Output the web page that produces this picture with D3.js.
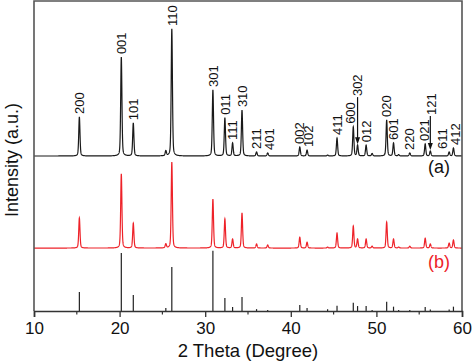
<!DOCTYPE html>
<html><head><meta charset="utf-8">
<script src="https://cdn.jsdelivr.net/npm/d3@7"></script>
<style>body{margin:0;background:#fff}</style>
</head><body><svg id="c" width="474" height="364"></svg>
<script>
// Peak positions (2θ, degree) and Miller indices
const peakTheta = [15.3, 20.2, 21.6, 25.4, 26.1, 30.9, 32.3, 33.2, 34.3, 36.0, 37.3, 41.05, 41.9, 44.3, 45.4, 47.3, 47.8, 48.8, 49.5, 51.2, 52.0, 52.6, 53.9, 55.7, 56.3, 58.5, 59.0];
const hkl = ["200","001","101","","110","301","011","111","310","211","401","002","102","","411","600","302","012","","020","601","","220","021","121","611","412"];
// (a) sample pattern peak intensities (a.u.)
const intensityA = [12.6, 31.9, 10.6, 1.6, 41.0, 21.3, 12.3, 4.2, 14.8, 1.3, 1.0, 2.9, 1.9, 0.3, 5.8, 9.4, 3.5, 3.5, 0.8, 11.6, 4.2, 0.4, 1.0, 3.9, 1.6, 1.3, 2.6];
// (b) sample pattern peak intensities (a.u.)
const intensityB = [9.7, 23.9, 8.0, 1.3, 27.7, 15.8, 9.4, 2.9, 11.3, 1.3, 1.0, 3.5, 1.9, 0.3, 4.8, 7.1, 2.9, 2.9, 0.6, 8.4, 2.9, 0.3, 0.6, 3.2, 1.3, 1.6, 2.6];
// Standard reference pattern (stick lines)
const intensityRef = [6.1, 18.7, 5.2, 1.0, 14.2, 19.4, 4.2, 1.3, 4.5, 0.6, 0.3, 1.9, 1.0, 0.6, 1.7, 2.7, 1.6, 1.6, 0.3, 3.0, 1.4, 0.3, 0.3, 1.3, 0.5, 0.5, 1.4];
// Labels raised with arrows: label base level (a.u. above trace baseline)
const arrowHkl = ["302", "121"];
const arrowLevel = [19.0, 12.9];
const xTicks = [10, 20, 30, 40, 50, 60];
const xMinorTicks = [15, 25, 35, 45, 55];
const offsetA = 50, offsetB = 20.3;

const svg = d3.select("#c");
const L = 34, R = 462, T = 1, B = 311;
const x = d3.scaleLinear().domain([10, 60]).range([L, R]);
const y = d3.scaleLinear().domain([0, 100]).range([B, T]);
const font = "'Liberation Sans', Arial, sans-serif";
// small horizontal nudges (px) that keep crowded labels apart
const nudge = { "600": -2.5, "611": -6.5, "412": 1.5, "401": 2, "002": -0.8, "102": 1.2, "012": 0.5, "021": -0.8, "121": 1.2 };

// peak profile (pseudo-Voigt) for rendering traces from peak lists
const fwhm = 0.17, eta = 0.35;
function profile(t, heights) {
  let s = 0;
  for (let i = 0; i < peakTheta.length; i++) {
    const d = t - peakTheta[i];
    const g = Math.exp(-4 * Math.LN2 * d * d / (fwhm * fwhm));
    const l = 1 / (1 + 4 * d * d / (fwhm * fwhm));
    s += heights[i] * (eta * l + (1 - eta) * g);
  }
  return s;
}
const grid = d3.range(10, 60.0001, 0.01);
const line = d3.line().x(d => x(d[0])).y(d => y(d[1]));

svg.append("path").datum(grid.map(t => [t, offsetA + profile(t, intensityA)]))
  .attr("d", line).attr("fill", "none").attr("stroke", "#1a1a1a").attr("stroke-width", 1.2);
svg.append("path").datum(grid.map(t => [t, offsetB + profile(t, intensityB)]))
  .attr("d", line).attr("fill", "none").attr("stroke", "#ee2229").attr("stroke-width", 1.2);

// reference sticks
svg.append("g").selectAll("line").data(peakTheta).join("line")
  .attr("x1", d => x(d)).attr("x2", d => x(d))
  .attr("y1", y(0)).attr("y2", (d, i) => y(intensityRef[i]))
  .attr("stroke", "#222").attr("stroke-width", 1.2);

// frame
svg.append("path").attr("d", `M${L},${B}V${T}H${R}V${B}`)
  .attr("fill", "none").attr("stroke", "#555").attr("stroke-width", 1.6);

// bottom axis
const ax = svg.append("g").attr("transform", `translate(0,${B})`)
  .call(d3.axisBottom(x).tickValues(xTicks).tickSize(6).tickPadding(5).tickFormat(d3.format("d")));
ax.select(".domain").attr("stroke", "#333").attr("stroke-width", 1.6);
ax.selectAll(".tick line").attr("stroke", "#333").attr("stroke-width", 1.3);
ax.selectAll("text").attr("font-family", font).attr("font-size", 17).attr("fill", "#111");
svg.append("g").selectAll("line").data(xMinorTicks).join("line")
  .attr("x1", d => x(d)).attr("x2", d => x(d)).attr("y1", B).attr("y2", B + 3.5)
  .attr("stroke", "#333").attr("stroke-width", 1.2);

// peak labels
const labels = svg.append("g").attr("font-family", font).attr("font-size", 13).attr("fill", "#111");
peakTheta.forEach((p, i) => {
  if (!hkl[i]) return;
  const ai = arrowHkl.indexOf(hkl[i]);
  const top = offsetA + intensityA[i];
  const base = ai >= 0 ? y(offsetA + arrowLevel[ai]) - 1 : y(top) - 3;
  const lx = x(p) + (nudge[hkl[i]] || 0);
  labels.append("text")
    .attr("transform", `translate(${lx},${base}) rotate(-90)`)
    .attr("dy", "0.36em").text(hkl[i]);
  if (ai >= 0) {
    const tip = y(top) - 1;
    labels.append("line").attr("x1", x(p)).attr("x2", x(p))
      .attr("y1", base + 1).attr("y2", tip - 6)
      .attr("stroke", "#111").attr("stroke-width", 1.2);
    labels.append("path")
      .attr("d", `M${x(p) - 2.5},${tip - 7}L${x(p) + 2.5},${tip - 7}L${x(p)},${tip}Z`)
      .attr("fill", "#111");
  }
});

// series tags
svg.append("text").attr("x", 439).attr("y", 173).attr("text-anchor", "middle")
  .attr("font-family", font).attr("font-size", 18).attr("fill", "#111").text("(a)");
svg.append("text").attr("x", 439).attr("y", 268).attr("text-anchor", "middle")
  .attr("font-family", font).attr("font-size", 18).attr("fill", "#ee2229").text("(b)");

// axis titles
svg.append("text").attr("x", 248).attr("y", 357).attr("text-anchor", "middle")
  .attr("font-family", font).attr("font-size", 18.5).attr("fill", "#111").text("2 Theta (Degree)");
svg.append("text").attr("transform", "translate(18,160) rotate(-90)").attr("text-anchor", "middle")
  .attr("font-family", font).attr("font-size", 18).attr("fill", "#111").text("Intensity (a.u.)");
</script></body></html>
